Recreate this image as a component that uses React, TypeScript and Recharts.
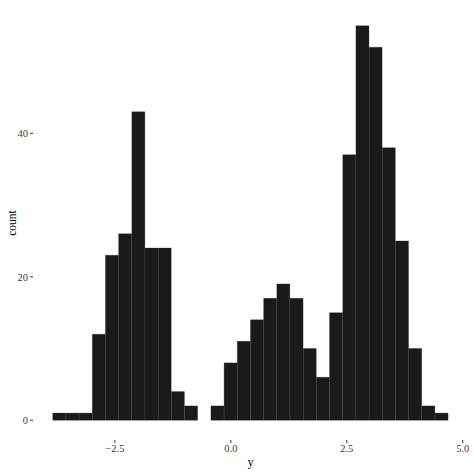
import { BarChart, Bar, XAxis, YAxis } from 'recharts';

// histogram of y, 30 bins
const binCenters = [
  -3.698, -3.414, -3.13, -2.845, -2.561, -2.277, -1.992, -1.708, -1.424, -1.14,
  -0.855, -0.571, -0.287, -0.003, 0.281, 0.566, 0.85, 1.134, 1.419, 1.703,
  1.987, 2.271, 2.556, 2.84, 3.124, 3.408, 3.693, 3.977, 4.261, 4.546,
];
const counts = [
  1, 1, 1, 12, 23, 26, 43, 24, 24, 4,
  2, 0, 2, 8, 11, 14, 17, 19, 17, 10,
  6, 15, 37, 55, 52, 38, 25, 10, 2, 1,
];
const xTicks = [-2.5, 0, 2.5, 5];
const yTicks = [0, 20, 40];

const data = binCenters.map((x, i) => ({ x, count: counts[i] }));

const font = 'Liberation Serif, Times New Roman, serif';

export default function App() {
  return (
    <div style={{ position: 'absolute', left: 0, top: 0, background: '#fff' }}>
      <BarChart
        width={474}
        height={473}
        data={data}
        margin={{ top: 6, right: 6, left: 0, bottom: 0 }}
        barCategoryGap={0}
        barGap={0}
      >
        <XAxis
          dataKey="x"
          type="number"
          domain={[-4.266, 5.114]}
          ticks={xTicks}
          allowDataOverflow
          height={33}
          axisLine={false}
          tickLine={{ stroke: '#333' }}
          tickSize={3}
          tickMargin={2}
          tick={{ fontSize: 10.5, fill: '#3a3a3a', fontFamily: font }}
          tickFormatter={(v: number) => (v < 0 ? '\u2212' : '') + Math.abs(v).toFixed(1)}
          label={{ value: 'y', position: 'insideBottom', offset: 7, style: { fontSize: 11.5, fill: '#000', fontFamily: font } }}
        />
        <YAxis
          type="number"
          domain={[-2.75, 57.75]}
          ticks={yTicks}
          allowDataOverflow
          width={33}
          axisLine={false}
          tickLine={{ stroke: '#333' }}
          tickSize={3}
          tickMargin={2}
          tick={{ fontSize: 10.5, fill: '#3a3a3a', fontFamily: font }}
          label={{ value: 'count', angle: -90, position: 'insideLeft', offset: 12, style: { fontSize: 11.5, fill: '#000', fontFamily: font, textAnchor: 'middle' } }}
        />
        <Bar dataKey="count" fill="#1a1a1a" stroke="#202020" strokeWidth={0.3} isAnimationActive={false} />
      </BarChart>
    </div>
  );
}
